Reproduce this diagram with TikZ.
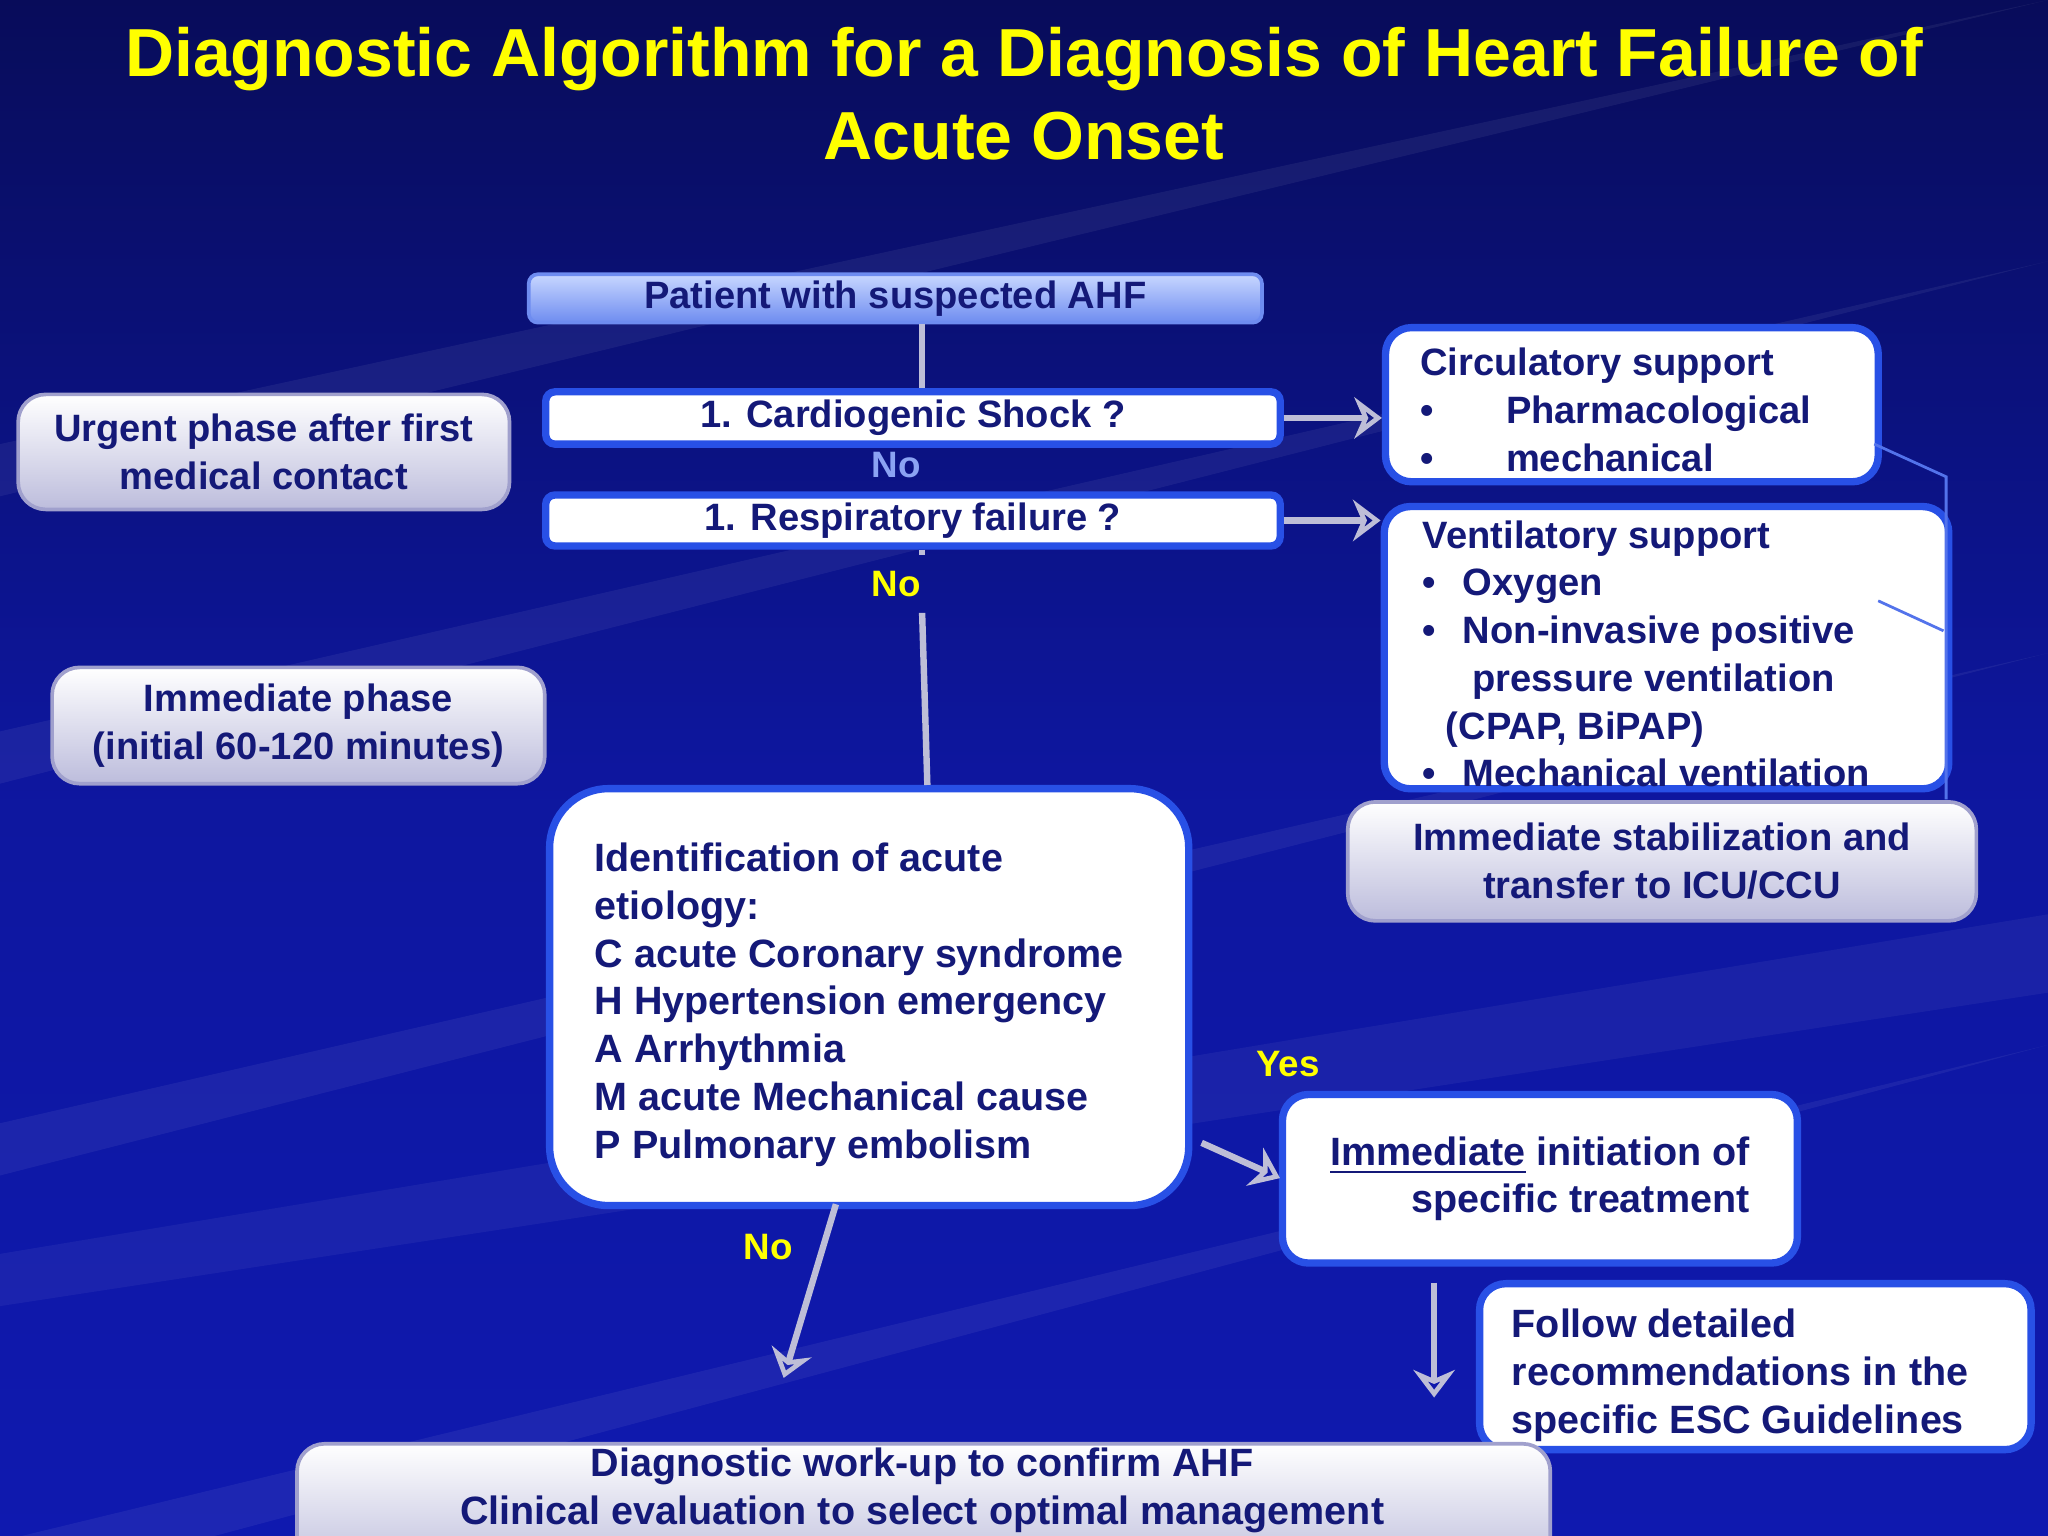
\documentclass[tikz,border=0pt]{standalone}
\usepackage{fontspec}
\setmainfont{Liberation Sans}
\usetikzlibrary{arrows.meta}
\definecolor{navy}{RGB}{20,25,120}
\definecolor{bgblue}{RGB}{15,25,175}
\definecolor{bgdark}{RGB}{8,12,90}
\definecolor{ttl}{RGB}{255,255,0}
\definecolor{bord}{RGB}{40,80,230}
\definecolor{lavdark}{RGB}{160,160,205}
\definecolor{lblue}{RGB}{200,215,255}
\definecolor{mblue}{RGB}{110,140,240}
\definecolor{conn}{RGB}{190,190,215}
\tikzset{
 txt/.style={font=\bfseries\fontsize{8.3}{10.4}\selectfont, text=navy},
 wbox/.style={txt, draw=bord, line width=1.6pt, fill=white, rounded corners=2pt},
 rbox/.style={txt, draw=bord, line width=1.6pt, fill=white, rounded corners=0.2cm},
 lbox/.style={txt, draw=lavdark, line width=0.8pt, top color=white, bottom color=lavdark!70, rounded corners=6pt},
 pbox/.style={txt, draw=mblue, line width=0.8pt, top color=lblue, bottom color=mblue, rounded corners=2pt},
 lbl/.style={font=\bfseries\fontsize{8}{10}\selectfont, text=ttl},
 conn/.style={draw=conn, line width=1.4pt},
 arr/.style={conn, -{Stealth[open, length=6pt, width=9pt]}},
 thinln/.style={draw=bord!80!white, line width=0.6pt},
}
\begin{document}
\begin{tikzpicture}[x=0.01cm,y=-0.01cm]
\useasboundingbox (0,0) rectangle (1568,1176);
\shade[top color=bgdark, bottom color=bgblue, middle color=bgblue!80!bgdark] (0,0) rectangle (1568,1176);
\foreach \a/\b in {0/40,200/260,500/560,800/880}{
 \fill[white, opacity=0.06] (1568,\a) -- (0,\b+300) -- (0,\b+340) -- cycle;}
\fill[white, opacity=0.05] (1568,700) -- (1568,760) -- (0,1000) -- (0,960) -- cycle;

\node[font=\bfseries\fontsize{14.8}{18}\selectfont, text=ttl, align=center] (title) at (784,72)
 {Diagnostic Algorithm for a Diagnosis of Heart Failure of\\Acute Onset};

\node[pbox, minimum width=5.61cm, minimum height=0.37cm, inner sep=0] (pat) at (685.5,228.5) {Patient with suspected AHF};
\node[wbox, minimum width=5.62cm, minimum height=0.40cm, inner sep=0] (cs) at (699,320) {1. Cardiogenic Shock ?};
\node[wbox, minimum width=5.62cm, minimum height=0.39cm, inner sep=0] (rf) at (699,398.5) {1. Respiratory failure ?};
\node[lbox, minimum width=3.76cm, minimum height=0.88cm, inner sep=0, align=center] (urg) at (202,346) {Urgent phase after first\\medical contact};
\node[lbox, minimum width=3.77cm, minimum height=0.89cm, inner sep=0, align=center] (imm) at (228.5,555.5) {Immediate phase\\(initial 60-120 minutes)};

\node[rbox, minimum width=3.77cm, minimum height=1.18cm, anchor=north west, inner sep=0] (circ) at (1058,248) {};
\node[txt, anchor=north west, align=left] at (1075,254) {Circulatory support\\
 •\hspace{1.9em}Pharmacological\\ •\hspace{1.9em}mechanical};
\node[rbox, minimum width=4.32cm, minimum height=2.16cm, anchor=north west, inner sep=0] (vent) at (1057,385) {};
\node[txt, anchor=north west, align=left] at (1077,386) {Ventilatory support\\
 •\hspace{0.7em}Oxygen\\ •\hspace{0.7em}Non-invasive positive\\ \hspace{1.3em}pressure ventilation\\
 \hspace{0.6em}(CPAP, BiPAP)\\ •\hspace{0.7em}Mechanical ventilation};
\node[lbox, minimum width=4.81cm, minimum height=0.91cm, inner sep=0, align=center] (stab) at (1272.5,659.5) {Immediate stabilization and\\transfer to ICU/CCU};

\node[rbox, rounded corners=0.45cm, minimum width=4.89cm, minimum height=3.19cm, anchor=north west, inner sep=0] (id) at (418,601) {};
\node[txt, anchor=north west, align=left, font=\bfseries\fontsize{8.6}{10.4}\selectfont] at (443,633) {Identification of acute\\etiology:\\C acute Coronary syndrome\\H Hypertension emergency\\A Arrhythmia\\M acute Mechanical cause\\P Pulmonary embolism};

\node[rbox, minimum width=3.94cm, minimum height=1.29cm, align=right, inner sep=0, font=\bfseries\fontsize{8.6}{10.4}\selectfont] (init) at (1179,902.5) {\underline{Immediate} initiation of\\specific treatment};
\node[rbox, minimum width=4.22cm, minimum height=1.27cm, anchor=north west, inner sep=0] (fol) at (1130,980) {};
\node[txt, anchor=north west, align=left, font=\bfseries\fontsize{8.6}{10.4}\selectfont] at (1145,990) {Follow detailed\\recommendations in the\\specific ESC Guidelines};
\node[lbox, minimum width=9.59cm, minimum height=1.0cm, anchor=north west, inner sep=0] (diag) at (226,1104) {};
\node[txt, align=center, font=\bfseries\fontsize{8.6}{10.4}\selectfont] at (706,1141) {Diagnostic work-up to confirm AHF\\Clinical evaluation to select optimal management};

\node[lbl, text=mblue!80!white] (no1) at (686,356) {No};
\node[lbl] (no2) at (686,447) {No};
\node[lbl] (yes) at (986,815) {Yes};
\node[lbl] (no3) at (588,955) {No};

\coordinate (a1) at (706,247); \coordinate (a2) at (710,601);
\draw[conn] (pat.south -| a1) -- (cs.north -| a1);
\draw[conn] (rf.south -| a1) -- (no2.north -| a1);
\draw[conn] (no2.south -| a1) -- (id.north -| a2);
\draw[arr] (cs.east) -- (circ.west |- cs.east);
\draw[arr] (rf.east) -- (vent.west |- rf.east);
\coordinate (b1) at (920,875); \coordinate (b2) at (980,902);
\draw[arr] (b1) -- (b2);
\coordinate (c1) at (640,922); \coordinate (c2) at (600,1055);
\draw[arr] (c1) -- (c2);
\coordinate (d1) at (1098,982); \coordinate (d2) at (1098,1070);
\draw[arr] (d1) -- (d2);
\coordinate (e1) at (1435,340); \coordinate (e2) at (1490,365); \coordinate (e3) at (1490,612);
\draw[thinln] (e1) -- (e2) -- (e3);
\coordinate (f1) at (1438,460); \coordinate (f2) at (1488,483);
\draw[thinln] (f1) -- (f2);
\end{tikzpicture}
\end{document}
